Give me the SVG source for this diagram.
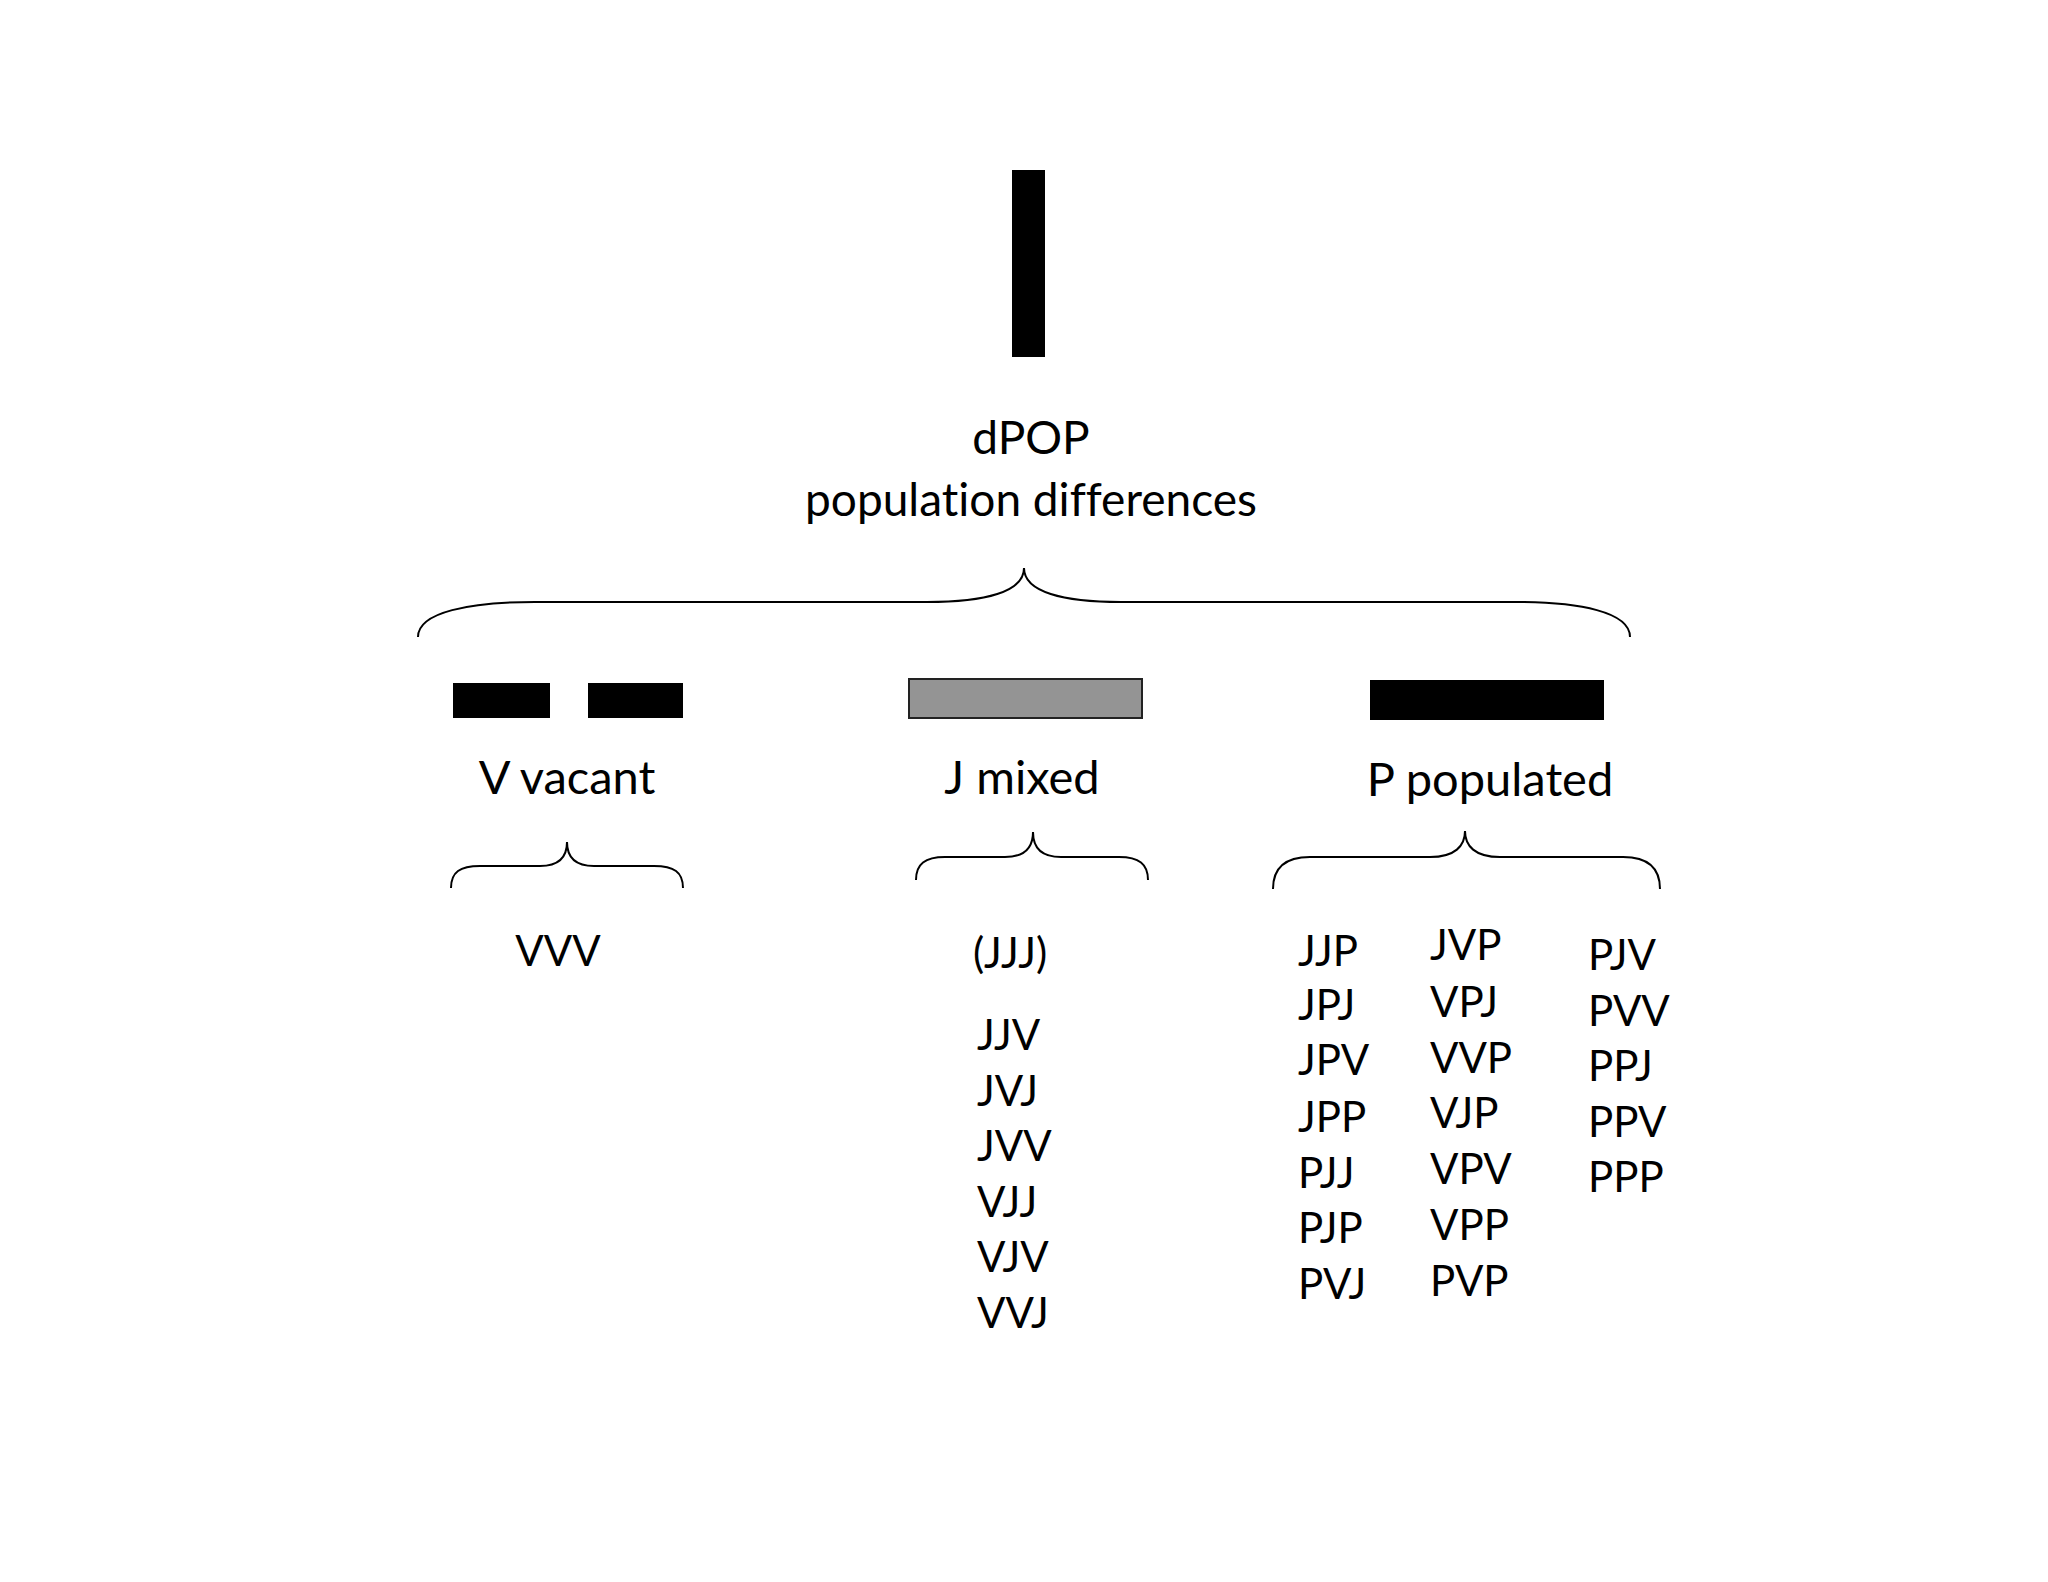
<svg xmlns="http://www.w3.org/2000/svg" width="2048" height="1582" viewBox="0 0 2048 1582">
<style>
text{font-family:Lato,"Open Sans","Liberation Sans",sans-serif;fill:#000;font-variant-ligatures:none}
.t{font-size:46px;text-anchor:middle}
.l{font-size:47px;text-anchor:middle}
.i{font-size:42px}
.br{fill:none;stroke:#000;stroke-width:2}
</style>
<rect width="2048" height="1582" fill="#fff"/>
<g id="root">
<rect x="1012" y="170" width="33" height="187" fill="#000"/>
<text class="t" x="1031" y="454">dPOP</text>
<text class="t" x="1031" y="516">population differences</text>
</g>
<g id="connectors">
<path class="br" d="M418,637 C418,612 470,602 535,602 L927,602 C985,602 1024,592 1024,568 C1024,592 1063,602 1121,602 L1515,602 C1580,602 1630,612 1630,637"/>
<path class="br" d="M451,888 C451,872 460,866 480,866 L540,866 C558,866 567,858 567,842 C567,858 576,866 594,866 L654,866 C674,866 683,872 683,888"/>
<path class="br" d="M916,880 C916,864 925,857 945,857 L1005,857 C1024,857 1033,849 1033,832 C1033,849 1042,857 1061,857 L1119,857 C1139,857 1148,864 1148,880"/>
<path class="br" d="M1273,889 C1273,868 1285,857 1310,857 L1430,857 C1455,857 1465,846 1465,831 C1465,846 1475,857 1500,857 L1623,857 C1648,857 1660,868 1660,889"/>
</g>
<g id="vacant">
<rect x="453" y="683" width="97" height="35" fill="#000"/>
<rect x="588" y="683" width="95" height="35" fill="#000"/>
<text class="l" x="567" y="794">V vacant</text>
<text class="i" x="558" y="966" text-anchor="middle">VVV</text>
</g>
<g id="mixed">
<rect x="909" y="679" width="233" height="39" fill="#949494" stroke="#222" stroke-width="2"/>
<text class="l" x="1022" y="794">J mixed</text>
<text class="i" x="1010" y="968" text-anchor="middle">(JJJ)</text>
<text class="i" x="977" y="1050">JJV</text>
<text class="i" x="977" y="1106">JVJ</text>
<text class="i" x="977" y="1161">JVV</text>
<text class="i" x="977" y="1217">VJJ</text>
<text class="i" x="977" y="1272">VJV</text>
<text class="i" x="977" y="1328">VVJ</text>
</g>
<g id="populated">
<rect x="1370" y="680" width="234" height="40" fill="#000"/>
<text class="l" x="1490" y="796">P populated</text>
<text class="i" x="1298" y="966">JJP</text>
<text class="i" x="1298" y="1020">JPJ</text>
<text class="i" x="1298" y="1075">JPV</text>
<text class="i" x="1298" y="1132">JPP</text>
<text class="i" x="1298" y="1188">PJJ</text>
<text class="i" x="1298" y="1243">PJP</text>
<text class="i" x="1298" y="1299">PVJ</text>
<text class="i" x="1430" y="960">JVP</text>
<text class="i" x="1430" y="1017">VPJ</text>
<text class="i" x="1430" y="1073">VVP</text>
<text class="i" x="1430" y="1128">VJP</text>
<text class="i" x="1430" y="1184">VPV</text>
<text class="i" x="1430" y="1240">VPP</text>
<text class="i" x="1430" y="1296">PVP</text>
<text class="i" x="1588" y="970">PJV</text>
<text class="i" x="1588" y="1026">PVV</text>
<text class="i" x="1588" y="1081">PPJ</text>
<text class="i" x="1588" y="1137">PPV</text>
<text class="i" x="1588" y="1192">PPP</text>
</g>
</svg>
